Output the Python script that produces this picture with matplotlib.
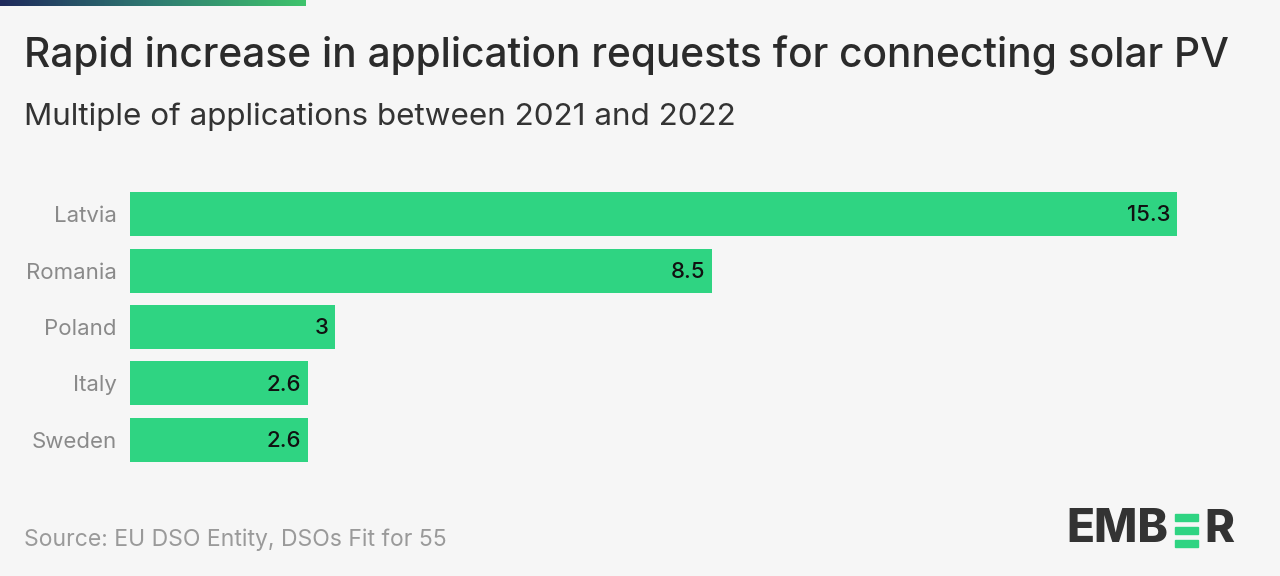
import matplotlib.pyplot as plt
import matplotlib.patches as mpatches
import matplotlib.colors as mcolors
import numpy as np

countries = ["Latvia", "Romania", "Poland", "Italy", "Sweden"]
multiples = [15.3, 8.5, 3, 2.6, 2.6]
labels = ["15.3", "8.5", "3", "2.6", "2.6"]

bg = "#f6f6f6"
green = "#2fd482"
plt.rcParams['font.family'] = ['Inter', 'DejaVu Sans']

fig = plt.figure(figsize=(12.8, 5.76), dpi=100, facecolor=bg)
renderer = fig.canvas.get_renderer()


def fit(t, width_px):
    # scale the font so the text covers the width seen in the reference
    bb = t.get_window_extent(renderer)
    t.set_fontsize(t.get_fontsize() * width_px / bb.width)
    return t


ax = fig.add_axes([130/1280, 1-468/576, (1177-130)/1280, (468-186)/576])
ax.set_facecolor(bg)

y = np.arange(len(countries))
ax.barh(y, multiples, height=0.78, color=green)
for yi, v, lab in zip(y, multiples, labels):
    ax.text(v - 0.1, yi + 0.02, lab, ha="right", va="center", fontsize=16,
            fontweight="medium", color="#111111")

ax.set_xlim(0, 15.3)
ax.set_ylim(4.5, -0.5)
ax.set_yticks(y)
ax.set_yticklabels(countries, fontsize=16, color="#8a8a8a")
ax.tick_params(axis="y", length=0, pad=9.4)
ax.set_xticks([])
for s in ax.spines.values():
    s.set_visible(False)

# top gradient strip
grad = fig.add_axes([0, 1-6/576, 306/1280, 6/576])
grad.imshow(np.linspace(0, 1, 256)[None, :], aspect="auto",
            cmap=mcolors.LinearSegmentedColormap.from_list("g", ["#1f2a5c", "#2f7a72", "#3fc46c"]))
grad.axis("off")

fit(fig.text(24/1280, 1-55/576, "Rapid increase in application requests for connecting solar PV",
             fontsize=27, fontweight="medium", color="#2b2b2b", va="center"), 1206)
fit(fig.text(24/1280, 1-117/576, "Multiple of applications between 2021 and 2022",
             fontsize=21, color="#333333", va="center"), 713)
fit(fig.text(24/1280, 1-540/576, "Source: EU DSO Entity, DSOs Fit for 55",
             fontsize=15, color="#9a9a9a", va="center"), 424)

# EMBER logo
logo_y = 1-530/576
fit(fig.text(1066/1280, logo_y, "EMB", fontsize=28, fontweight="heavy", color="#333333",
             va="center"), 102)
for k in range(3):
    fig.patches.append(mpatches.Rectangle((1175/1280, (1-(514+k*13)/576) - 7/576), 23/1280, 7/576,
                                          transform=fig.transFigure, color=green))
fit(fig.text(1204/1280, logo_y, "R", fontsize=28, fontweight="heavy", color="#333333",
             va="center"), 30)

fig.savefig("out.png", dpi=100, facecolor=bg)
